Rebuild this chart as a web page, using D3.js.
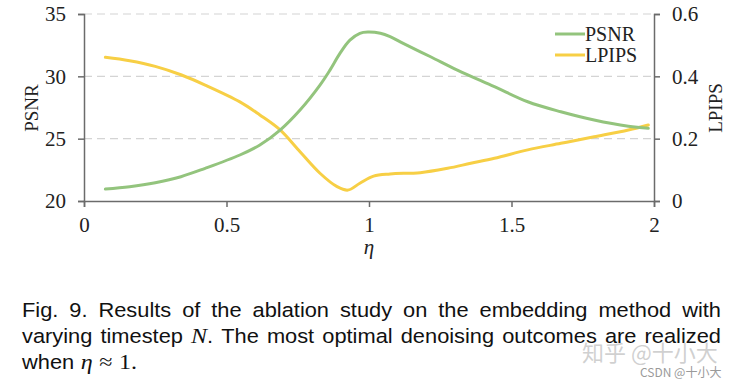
<!DOCTYPE html>
<html>
<head>
<meta charset="utf-8">
<script src="https://cdn.jsdelivr.net/npm/d3@7/dist/d3.min.js"></script>
<style>
  html, body { margin: 0; padding: 0; background: #fff; }
  svg { display: block; }
</style>
</head>
<body>
<svg id="chart" width="736" height="385"></svg>
<script>
// ---------- data ----------
const psnrEta = [0.075, 0.16, 0.25, 0.34, 0.425, 0.547, 0.617, 0.688, 0.758, 0.828, 0.863, 0.898, 0.933, 0.968, 0.996, 1.04, 1.074, 1.12, 1.216, 1.31, 1.44, 1.557, 1.673, 1.79, 1.91, 1.98];
const psnrValues = [20.96, 21.15, 21.47, 21.95, 22.62, 23.69, 24.49, 25.69, 27.3, 29.3, 30.5, 31.84, 32.9, 33.45, 33.55, 33.45, 33.18, 32.64, 31.57, 30.5, 29.17, 27.96, 27.16, 26.5, 26.0, 25.83];
const lpipsEta = [0.075, 0.16, 0.25, 0.34, 0.425, 0.547, 0.617, 0.688, 0.758, 0.828, 0.888, 0.926, 0.968, 1.016, 1.074, 1.18, 1.276, 1.357, 1.44, 1.557, 1.673, 1.79, 1.91, 1.98];
const lpipsValues = [0.461, 0.450, 0.432, 0.405, 0.372, 0.318, 0.276, 0.228, 0.158, 0.089, 0.046, 0.035, 0.057, 0.080, 0.087, 0.091, 0.105, 0.121, 0.137, 0.164, 0.185, 0.206, 0.228, 0.244];
const xTicks = [0, 0.5, 1, 1.5, 2];
const psnrTicks = [20, 25, 30, 35];
const lpipsTicks = [0, 0.2, 0.4, 0.6];
const seriesNames = ["PSNR", "LPIPS"];
const captionLines = [
  "Fig. 9. Results of the ablation study on the embedding method with",
  "varying timestep N. The most optimal denoising outcomes are realized",
  "when η ≈ 1."
];

(function () {
// ---------- setup ----------
const svg = d3.select("#chart");
const pLeft = 84, pRight = 654, pTop = 14, pBottom = 201;
const serif = "'Liberation Serif', 'Times New Roman', serif";
const sans = "'Liberation Sans', Arial, Helvetica, sans-serif";
const green = "#93c47d";
const yellow = "#f7cf45";
const axisColor = "#6b6b6b";

const x = d3.scaleLinear().domain([0, 2]).range([pLeft, pRight]);
const yL = d3.scaleLinear().domain([20, 35]).range([pBottom, pTop]);
const yR = d3.scaleLinear().domain([0, 0.6]).range([pBottom, pTop]);

// gridlines
svg.append("g").selectAll("line").data(psnrTicks.filter(d => d > 20)).join("line")
  .attr("x1", pLeft).attr("x2", pRight)
  .attr("y1", d => yL(d)).attr("y2", d => yL(d))
  .attr("stroke", "#d4d4d4").attr("stroke-width", 1.2)
  .attr("stroke-dasharray", "8,5");

function styleAxis(g) {
  g.selectAll(".domain").attr("stroke", axisColor).attr("stroke-width", 1.5);
  g.selectAll(".tick line").attr("stroke", axisColor).attr("stroke-width", 1.5);
  g.selectAll(".tick text").attr("font-family", serif).attr("font-size", 21).attr("fill", "#222");
}

// x axis
const gx = svg.append("g").attr("transform", `translate(0,${pBottom})`)
  .call(d3.axisBottom(x).tickValues(xTicks).tickFormat(d3.format("")).tickSizeOuter(0).tickSize(6).tickPadding(10));
styleAxis(gx);

// left axis
const gl = svg.append("g").attr("transform", `translate(${pLeft},0)`)
  .call(d3.axisLeft(yL).tickValues(psnrTicks).tickSizeOuter(0).tickSize(6).tickPadding(12));
styleAxis(gl);

// right axis
const gr = svg.append("g").attr("transform", `translate(${pRight},0)`)
  .call(d3.axisRight(yR).tickValues(lpipsTicks).tickFormat(d3.format("")).tickSizeOuter(0).tickSize(6).tickPadding(12));
styleAxis(gr);

// axis labels
svg.append("text").attr("transform", `translate(38,108) rotate(-90)`)
  .attr("text-anchor", "middle").attr("font-family", serif).attr("font-size", 19).attr("fill", "#222").text("PSNR");
svg.append("text").attr("transform", `translate(722,108) rotate(-90)`)
  .attr("text-anchor", "middle").attr("font-family", serif).attr("font-size", 19).attr("fill", "#222").text("LPIPS");
svg.append("text").attr("x", x(1)).attr("y", 254)
  .attr("text-anchor", "middle").attr("font-family", serif).attr("font-style", "italic")
  .attr("font-size", 21).attr("fill", "#222").text("η");

// lines
const psnrData = psnrEta.map((e, i) => ({x: e, y: psnrValues[i]}));
const lpipsData = lpipsEta.map((e, i) => ({x: e, y: lpipsValues[i]}));
const lineL = d3.line().x(d => x(d.x)).y(d => yL(d.y)).curve(d3.curveCatmullRom.alpha(0.5));
const lineR = d3.line().x(d => x(d.x)).y(d => yR(d.y)).curve(d3.curveCatmullRom.alpha(0.5));

svg.append("path").attr("d", lineR(lpipsData)).attr("fill", "none")
  .attr("stroke", yellow).attr("stroke-width", 3).attr("stroke-linecap", "round");
svg.append("path").attr("d", lineL(psnrData)).attr("fill", "none")
  .attr("stroke", green).attr("stroke-width", 3).attr("stroke-linecap", "round");

// legend
const legend = svg.append("g");
const legendColors = [green, yellow];
seriesNames.forEach((name, i) => {
  const yy = 34 + i * 21;
  legend.append("line").attr("x1", 555).attr("x2", 585).attr("y1", yy).attr("y2", yy)
    .attr("stroke", legendColors[i]).attr("stroke-width", 3);
  legend.append("text").attr("x", 585).attr("y", yy + 7)
    .attr("font-family", serif).attr("font-size", 20).attr("fill", "#222").text(name);
});

// caption (justified, slightly widened glyphs as in the reference)
const capX0 = 22, capX1 = 721, capSize = 19.5, capScale = 1.12;
const capBase = [317, 343, 369];
const cap = svg.append("g").attr("transform", `translate(${capX0},0) scale(${capScale},1)`);
const capWidth = (capX1 - capX0) / capScale;
function wordSegments(w) {
  if (w === "N.") return [{t: "N", serif: true}, {t: ".", serif: false}];
  if (w === "η") return [{t: "η", serif: true}];
  if (w === "≈") return [{t: "≈", serif: true, upright: true}];
  if (w === "1.") return [{t: "1.", serif: true, upright: true}];
  return [{t: w, serif: false}];
}
captionLines.forEach((line, li) => {
  const words = line.split(" ");
  const nodes = words.map(w => {
    const t = cap.append("text").attr("y", capBase[li]).attr("font-size", capSize).attr("fill", "#111")
      .attr("font-family", sans);
    wordSegments(w).forEach(s => {
      const ts = t.append("tspan").text(s.t);
      if (s.serif) {
        ts.attr("font-family", serif).attr("font-size", capSize + 2);
        if (!s.upright) ts.attr("font-style", "italic");
      }
    });
    return t;
  });
  const widths = nodes.map(n => n.node().getComputedTextLength());
  const total = d3.sum(widths);
  const justify = li < captionLines.length - 1;
  const space = justify ? (capWidth - total) / (words.length - 1) : capSize * 0.3;
  let cx = 0;
  nodes.forEach((n, i) => { n.attr("x", cx); cx += widths[i] + space; });
});

// watermarks
svg.append("text").attr("x", 582).attr("y", 361).attr("font-family", "'Noto Sans CJK SC', sans-serif")
  .attr("font-size", 22).attr("fill", "#c8c8c8").attr("fill-opacity", 0.85).text("知乎 @十小大");
svg.append("text").attr("x", 640).attr("y", 377).attr("font-family", "'Noto Sans CJK SC', sans-serif")
  .attr("font-size", 12).attr("fill", "#9a9a9a").text("CSDN @十小大");
})();
</script>
</body>
</html>
